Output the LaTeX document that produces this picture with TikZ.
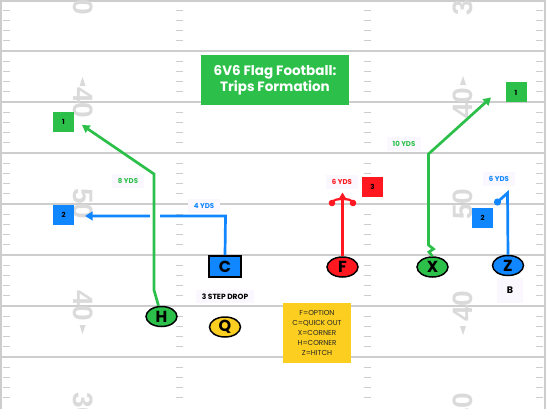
\documentclass[tikz,border=0pt]{standalone}
\usepackage{fontspec}
\setmainfont{Poppins}
\newfontfamily\numfont{Liberation Sans}
\usetikzlibrary{arrows.meta,calc,shapes.geometric}

\definecolor{fgreen}{RGB}{44,192,74}
\definecolor{fblue}{RGB}{16,134,255}
\definecolor{fred}{RGB}{255,24,32}
\definecolor{fyellow}{RGB}{252,206,32}
\definecolor{lineg}{RGB}{205,205,205}
\definecolor{numg}{RGB}{218,218,218}
\definecolor{labbg}{RGB}{250,248,254}

\begin{document}
\begin{tikzpicture}[x=1pt,y=-1pt,
  yard/.style={draw=lineg,line width=1.3pt},
  hashm/.style={draw=lineg,line width=1.1pt},
  fieldnum/.style={text=numg,font=\numfont\bfseries\fontsize{28}{28}\selectfont,inner sep=0pt},
  tri/.style={fill=numg},
  player/.style={ellipse,draw=black,line width=1.5pt,minimum width=31pt,minimum height=20pt,inner sep=0pt,font=\bfseries\fontsize{16}{16}\selectfont},
  tgt/.style={minimum width=21pt,minimum height=20pt,inner sep=0pt,font=\bfseries\fontsize{7}{7}\selectfont},
  yds/.style={fill=labbg,inner xsep=6pt,inner ysep=4pt,font=\bfseries\fontsize{7}{7}\selectfont},
  route/.style={line width=2.7pt},
  tipA/.style={-{Triangle[length=7.5pt,width=8.5pt]}},
]
\useasboundingbox (0,0) rectangle (546,409);
\clip (0,0) rectangle (546,409);
\fill[white] (0,0) rectangle (546,409);

% field
\foreach \k in {1,...,7} \draw[yard] (1,51*\k) -- (545,51*\k);
\draw[yard] (1,409) -- (1,1) -- (545,1) -- (545,409);
\foreach \k in {0,...,7}{
  \foreach \j in {1,...,4}{
    \pgfmathsetmacro\yy{51*\k+10.2*\j}
    \foreach \xx in {3,176,364,536} \draw[hashm] (\xx,\yy) -- ++(6.5,0);
  }
}
% field numbers
\foreach \yy/\tt in {0/30,103/40,204/50,306/40,408/30}{
  \node[fieldnum,rotate=-90] at (83,\yy) {\tt};
  \node[fieldnum,rotate=90] at (463,\yy) {\tt};
}
\fill[tri] (82.5,77) -- (79.5,86) -- (85.5,86) -- cycle;
\fill[tri] (82.5,334) -- (79.5,325) -- (85.5,325) -- cycle;
\fill[tri] (463,76) -- (460,85) -- (466,85) -- cycle;
\fill[tri] (463,335) -- (460,326) -- (466,326) -- cycle;

% title
\node[fill=fgreen,minimum width=148pt,minimum height=49.5pt,text=white,
  font=\bfseries\fontsize{13.5}{16}\selectfont,align=center] (title) at (275,80)
  {6V6 Flag Football:\\Trips Formation};

% labels
\node[yds,text=fgreen] (l8) at (128,181) {8 YDS};
\node[yds,text=fblue] (l4) at (204,206) {4 YDS};
\node[yds,text=fred] (l6r) at (342,182) {6 YDS};
\node[yds,text=fgreen] (l10) at (404,144) {10 YDS};
\node[yds,text=fblue] (l6b) at (499,179) {6 YDS};
\node[yds,text=black,font=\bfseries\fontsize{7.5}{7.5}\selectfont] (drop) at (225,296.5) {3 STEP DROP};
\node[fill=labbg,minimum width=26pt,minimum height=25pt,inner sep=0pt,font=\bfseries\fontsize{9.5}{9.5}\selectfont] (B) at (510,290) {B};

% targets
\node[tgt,fill=fgreen] (t1l) at (63.5,122) {1};
\node[tgt,fill=fblue] (t2l) at (63.5,215) {2};
\node[tgt,fill=fred] (t3) at (372.5,187) {3};
\node[tgt,fill=fgreen] (t1r) at (516,92.5) {1};
\node[tgt,fill=fblue] (t2r) at (482.5,218) {2};

% players
\node[player,fill=fgreen] (H) at (161.5,316.5) {H};
\node[player,fill=fyellow] (Q) at (225,327) {Q};
\node[player,fill=fred] (F) at (342.5,267) {F};
\node[player,fill=fgreen] (X) at (432.5,267) {X};
\node[player,fill=fblue] (Z) at (508,265.5) {Z};
\node[rectangle,draw=black,line width=1.6pt,fill=fblue,minimum width=32pt,minimum height=21pt,
  inner sep=0pt,font=\bfseries\fontsize{16}{16}\selectfont] (C) at (225,266.5) {C};

% routes
\coordinate (cA) at (225.5,216);
\coordinate (cT) at (85,216);
\draw[route,fblue,tipA] (C.north) -- (cA) -- (cT);
\draw[white,line width=4pt] (149.5,216) -- (159.5,216);

\coordinate (hA) at (154,290);
\coordinate (hB) at (154,174);
\coordinate (hT) at (82,125);
\draw[route,fgreen,tipA] ($(H.north)+(-3,0)$) -- (hA) -- (hB) -- (hT);

\coordinate (fT) at (342.5,192.5);
\coordinate (fL) at (332,203);
\coordinate (fR) at (353,203);
\draw[route,fred,tipA] (F.north) -- (fT);
\draw[fred,line width=2.2pt] (fL) .. controls (333,199.5) and (338,199) .. (342.5,199)
  .. controls (347,199) and (352,199.5) .. (fR);
\fill[fred] (fL) circle (3.3);
\fill[fred] (fR) circle (3.3);

\coordinate (xz1) at (429,252);
\coordinate (xz2) at (433.5,249);
\coordinate (xz3) at (428.5,245);
\coordinate (xA) at (428.5,154);
\coordinate (xT) at (491,97.5);
\draw[route,fgreen,tipA] (X.north) -- (xz1) -- (xz2) -- (xz3) -- (xA) -- (xT);

\coordinate (zA) at (507.5,193);
\coordinate (zD) at (497.5,202);
\draw[route,fblue] (Z.north) -- (zA) -- (zD);
\fill[fblue] (zD) circle (3.6);

% legend
\node[fill=fyellow,minimum width=68pt,minimum height=60pt,align=center,inner sep=0pt,
  text={black!85},font=\fontsize{7.2}{10}\selectfont] (legend) at (317,333)
  {F=OPTION\\C=QUICK OUT\\X=CORNER\\H=CORNER\\Z=HITCH};
\end{tikzpicture}
\end{document}
